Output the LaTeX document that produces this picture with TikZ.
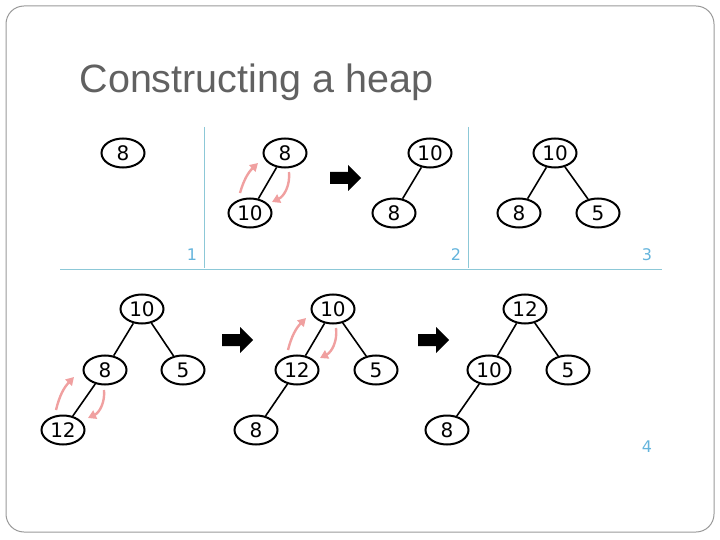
\documentclass[tikz,border=0pt]{standalone}
\usepackage{fontspec}
\setmainfont{DejaVu Sans}
\newfontfamily\titlefont{Liberation Sans}
\usetikzlibrary{shapes.geometric,arrows.meta}
\definecolor{pinkarr}{RGB}{240,160,160}
\definecolor{lblue}{RGB}{100,180,220}
\definecolor{sepline}{RGB}{140,200,215}
\begin{document}
\begin{tikzpicture}[x=1pt,y=-1pt,
  hn/.style={ellipse,draw=black,line width=2pt,minimum width=43pt,minimum height=29pt,inner sep=0pt,font=\fontsize{20}{20}\selectfont},
  edge/.style={line width=1.6pt},
  swap/.style={pinkarr,line width=2.4pt,-{Triangle[length=8pt,width=9pt]}},
  lbl/.style={lblue,font=\fontsize{16}{16}\selectfont},
  bigarrow/.style={fill=black}]
\useasboundingbox (0,0) rectangle (720,540);
\draw[gray!80,line width=1pt,rounded corners=18pt] (6,6) rectangle (714,532);
\node[anchor=west,text=black!62,font=\titlefont\fontsize{39.5}{39.5}\selectfont] (title) at (76,82) {Constructing a heap};
% separators
\draw[sepline,line width=1pt] (204,127) -- (204,268);
\draw[sepline,line width=1pt] (468,127) -- (468,268);
\draw[sepline,line width=1pt] (60,269) -- (662,269);
\node[lbl] (l1) at (192,255) {1};
\node[lbl] (l2) at (456,255) {2};
\node[lbl] (l3) at (647,255) {3};
\node[lbl] (l4) at (647,447) {4};
% panel 1
\node[hn] (a1) at (123,153) {8};
% panel 2
\node[hn] (b1) at (285,153) {8};
\node[hn] (b2) at (250,213) {10};
\draw[edge] (b1) -- (b2);
\draw[swap] (240,193) to[bend left=15] (258,163);
\draw[swap] (289,172) to[bend left=35] (272,202);
\fill[bigarrow] (330,172) -- (348,172) -- (348,165) -- (361,178) -- (348,191) -- (348,184) -- (330,184) -- cycle;
\node[hn] (c1) at (430,153) {10};
\node[hn] (c2) at (394,213) {8};
\draw[edge] (c1) -- (c2);
% panel 3
\node[hn] (d1) at (555,153) {10};
\node[hn] (d2) at (519,213) {8};
\node[hn] (d3) at (598,213) {5};
\draw[edge] (d1) -- (d2); \draw[edge] (d1) -- (d3);
% row 2 tree 1
\node[hn] (e1) at (142,309) {10};
\node[hn] (e2) at (105,370) {8};
\node[hn] (e3) at (183,370) {5};
\node[hn] (e4) at (63,430) {12};
\draw[edge] (e1) -- (e2); \draw[edge] (e1) -- (e3); \draw[edge] (e2) -- (e4);
\draw[swap] (56,410) to[bend left=15] (74,377);
\draw[swap] (104,390) to[bend left=35] (88,418);
\fill[bigarrow] (222,334) -- (240,334) -- (240,327) -- (253,340) -- (240,353) -- (240,346) -- (222,346) -- cycle;
% tree 2
\node[hn] (f1) at (333,309) {10};
\node[hn] (f2) at (297,370) {12};
\node[hn] (f3) at (376,370) {5};
\node[hn] (f4) at (256,430) {8};
\draw[edge] (f1) -- (f2); \draw[edge] (f1) -- (f3); \draw[edge] (f2) -- (f4);
\draw[swap] (288,350) to[bend left=15] (306,318);
\draw[swap] (336,328) to[bend left=35] (320,358);
\fill[bigarrow] (418,334) -- (436,334) -- (436,327) -- (449,340) -- (436,353) -- (436,346) -- (418,346) -- cycle;
% tree 3
\node[hn] (g1) at (525,309) {12};
\node[hn] (g2) at (489,370) {10};
\node[hn] (g3) at (568,370) {5};
\node[hn] (g4) at (447,430) {8};
\draw[edge] (g1) -- (g2); \draw[edge] (g1) -- (g3); \draw[edge] (g2) -- (g4);
\end{tikzpicture}
\end{document}
